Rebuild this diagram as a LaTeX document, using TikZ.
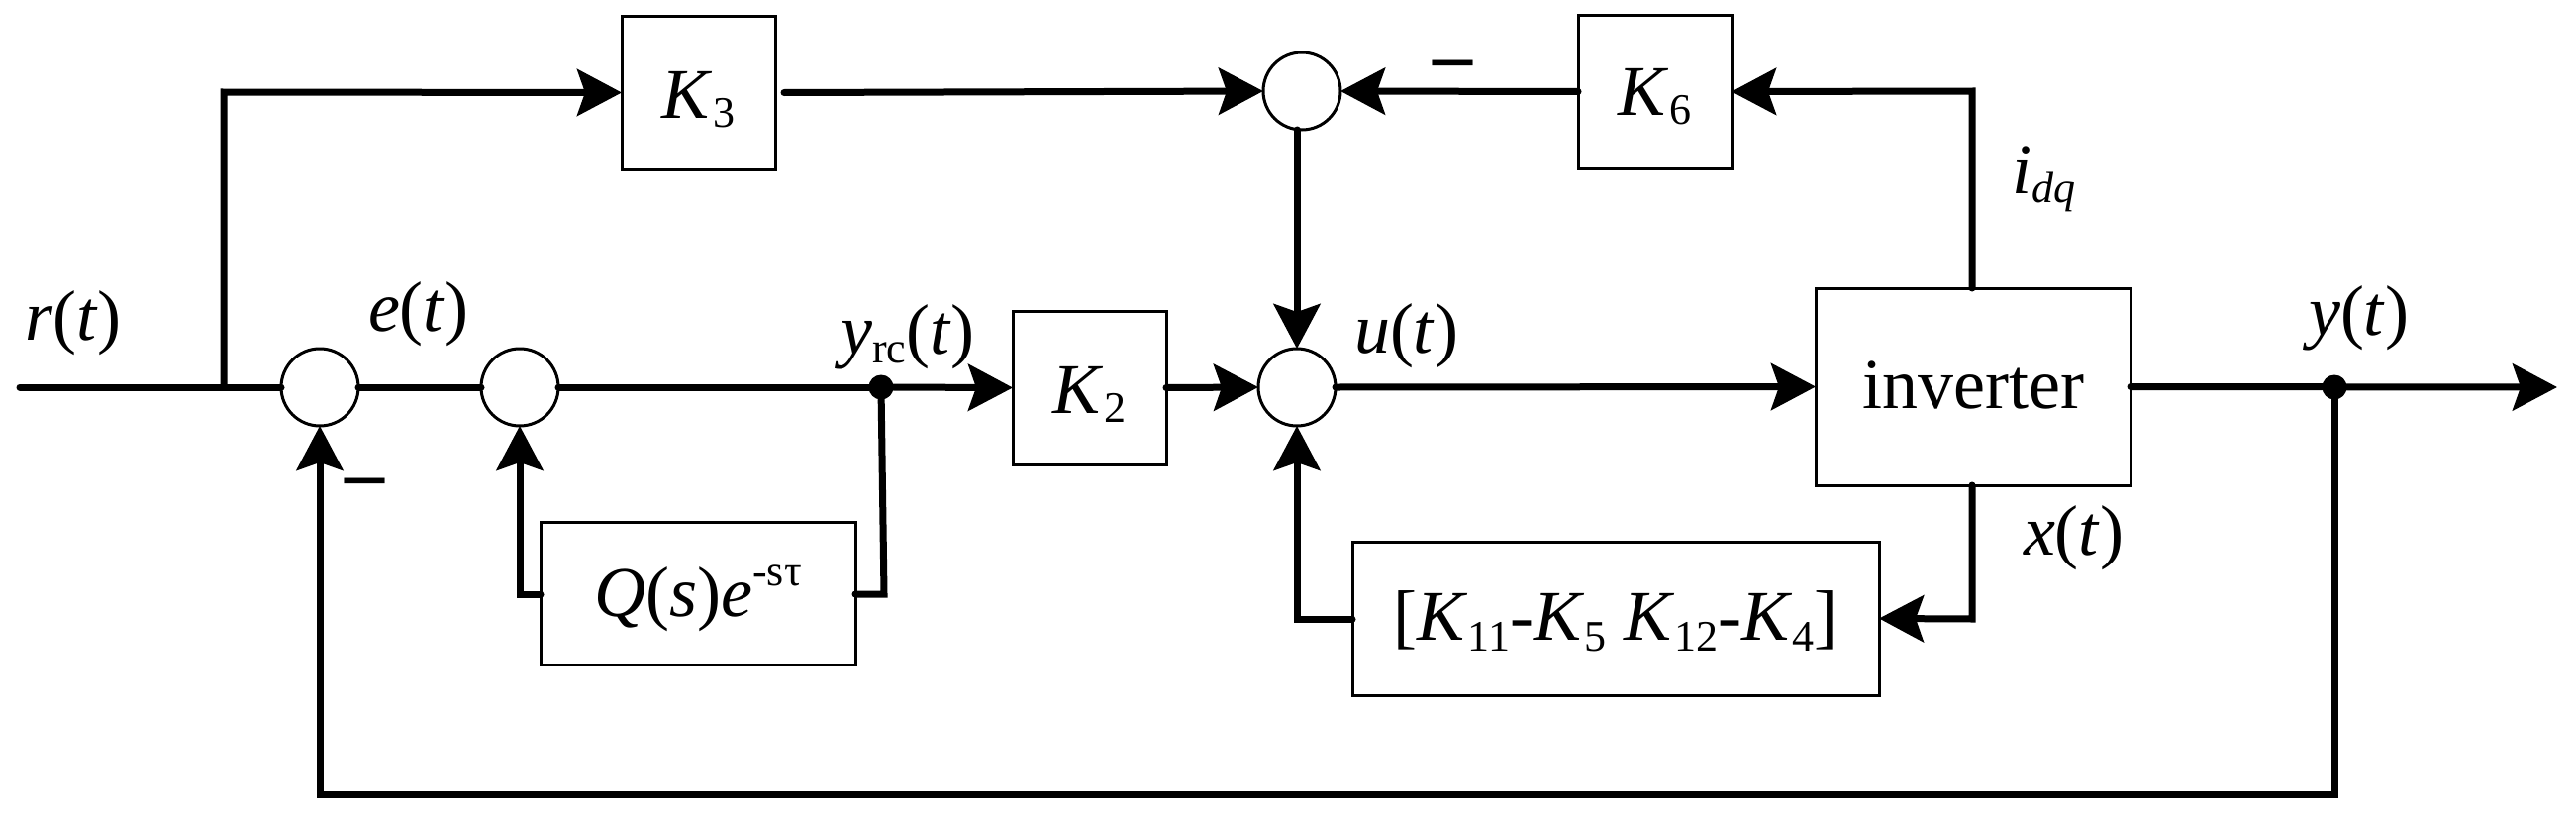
\documentclass[tikz,border=0pt]{standalone}
\usepackage{fontspec}
\setmainfont{Liberation Serif}
\usetikzlibrary{arrows.meta}
\newcommand{\bigf}{\fontsize{72}{80}\selectfont}
\newcommand{\dn}[2][9pt]{\raisebox{-#1}{\fontsize{44}{50}\selectfont #2}}
\newcommand{\itl}[1]{\textit{#1}}
\tikzset{
  sig/.style={line width=7pt,line join=miter,line cap=round},
  arr/.style={sig,-{Stealth[length=45pt,width=47pt,inset=8pt]}},
  block/.style={draw,line width=3pt,fill=white,inner sep=0pt,outer sep=0pt,font=\bigf,align=center,text depth=0pt},
  summer/.style={circle,draw,line width=3pt,fill=white,minimum size=78pt,inner sep=0pt,outer sep=0pt},
  dot/.style={circle,fill=black,minimum size=25pt,inner sep=0pt,outer sep=0pt},
  lab/.style={anchor=base west,inner sep=0pt,outer sep=0pt,font=\bigf},
  neg/.style={anchor=center,inner sep=0pt,outer sep=0pt,font=\fontsize{80}{80}\selectfont\bfseries}
}
\begin{document}
\begin{tikzpicture}[x=1pt,y=-1pt]
\useasboundingbox[fill=white] (0,0) rectangle (2602,827);
% blocks
\node[block,minimum width=155pt,minimum height=155pt,text height=51pt] (K3) at (705.5,93.5) {\itl{K}\dn{3}};
\node[block,minimum width=155pt,minimum height=155pt,text height=51pt] (K2) at (1100.5,391.5) {\itl{K}\dn{2}};
\node[block,minimum width=155pt,minimum height=155pt,text height=47pt] (K6) at (1671.5,92.5) {\itl{K}\dn{6}};
\node[block,minimum width=318pt,minimum height=144pt,text height=46pt] (Q) at (705,599) {\itl{Q}(\itl{s})\itl{e}\raisebox{31pt}{\fontsize{44}{50}\selectfont -sτ}};
\node[block,minimum width=532pt,minimum height=155pt,text height=43pt] (G) at (1632,624.5) {[\itl{K}\dn[11pt]{11}-\itl{K}\dn[11pt]{5} \itl{K}\dn[11pt]{12}-\itl{K}\dn[11pt]{4}]};
\node[block,minimum width=318pt,minimum height=199pt,text height=43pt] (INV) at (1993,390.5) {inverter};
% summing junctions
\node[summer] (S1) at (323,391) {};
\node[summer] (S2) at (525,391) {};
\node[summer] (S3) at (1310,391) {};
\node[summer] (ST) at (1315,92) {};
% branch points
\node[dot] (Drc) at (890,391) {};
\node[dot] (Dy) at (2358,391) {};
\coordinate (In) at (20,391);
\coordinate (Br) at (226,391);
\coordinate (BrT) at (226,93);
\coordinate (Qr) at (893,600);
\coordinate (Ql) at (525,600);
\coordinate (Gl) at (1310,625);
\coordinate (Gr) at (1992,625);
\coordinate (K6r) at (1992,92);
\coordinate (FbR) at (2358,802);
\coordinate (FbL) at (323,802);
\coordinate (Out) at (2583,391);
% connectors
\draw[sig] (In) -- (S1.west);
\draw[arr] (Br) -- (BrT) -- (K3.west);
\draw[sig] (S1.east) -- (S2.west);
\draw[sig] (S2.east) -- (Drc);
\draw[arr] (Drc) -- (K2.west);
\draw[arr] (K2.east) -- (S3.west);
\draw[arr] ([xshift=9pt]K3.east) -- (ST.west);
\draw[arr] (K6.west) -- (ST.east);
\draw[arr] (ST.south -| S3) -- (S3.north);
\draw[arr] (S3.east) -- (INV.west);
\draw[arr] (INV.east) -- (Out);
\draw[arr] (INV.north -| K6r) -- (K6r) -- (K6.east);
\draw[arr] (INV.south -| Gr) -- (Gr) -- (G.east);
\draw[arr] (G.west |- Gl) -- (Gl) -- (S3.south);
\draw[sig] (Drc) -- (Qr) -- (Q.east |- Qr);
\draw[arr] (Q.west |- Ql) -- (Ql) -- (S2.south);
\draw[arr] (Dy) -- (FbR) -- (FbL) -- (S1.south);
% labels
\node[lab] (Lr) at (25,343) {\itl{r}(\itl{t})};
\node[lab] (Le) at (372,334) {\itl{e}(\itl{t})};
\node[lab] (Lyrc) at (849,357) {\itl{y}\dn{rc}(\itl{t})};
\node[lab] (Lu) at (1368,356) {\itl{u}(\itl{t})};
\node[lab] (Ly) at (2332,338) {\itl{y}(\itl{t})};
\node[lab] (Li) at (2032,195) {\itl{i}\dn{\itl{dq}}};
\node[lab] (Lx) at (2044,560) {\itl{x}(\itl{t})};
\node[neg] (M1) at (368,494) {–};
\node[neg] (M2) at (1467,72) {–};
\end{tikzpicture}
\end{document}
